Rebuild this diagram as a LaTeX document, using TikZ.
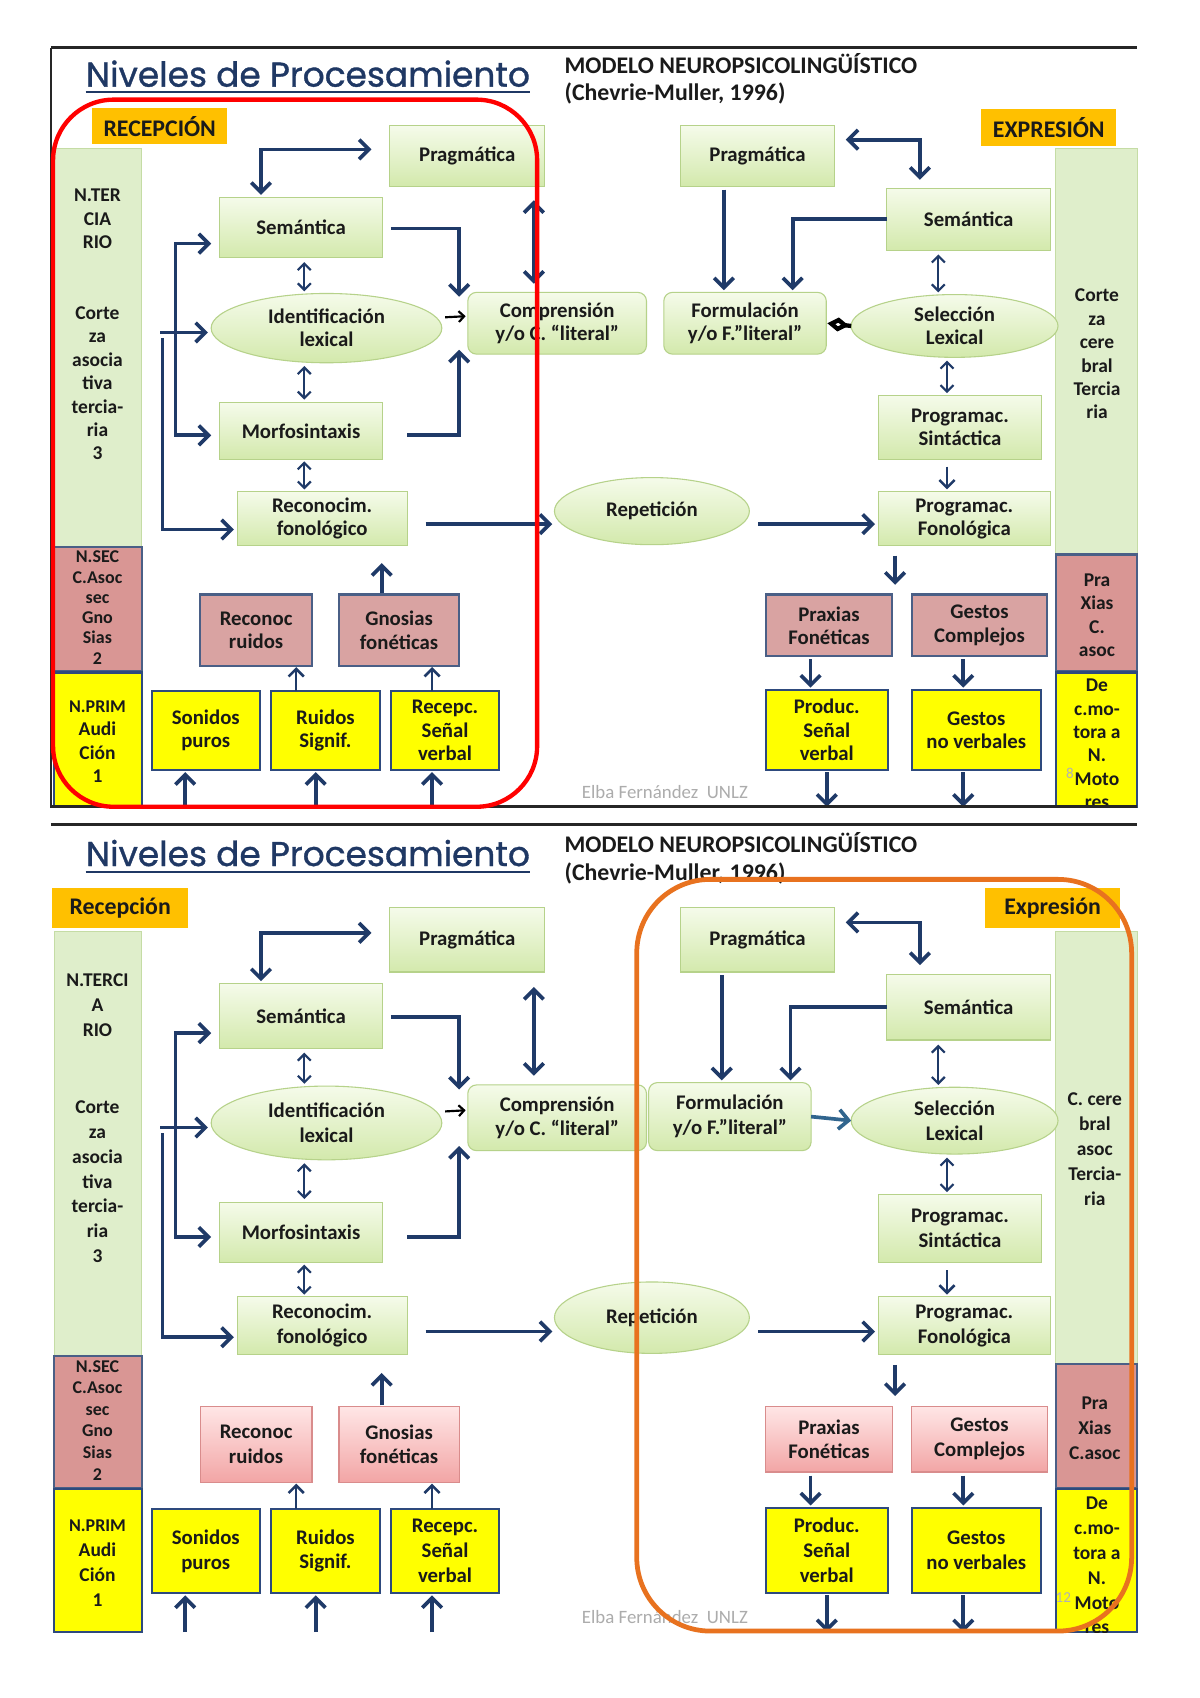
\documentclass[tikz,border=0pt]{standalone}
\usepackage{graphicx}
\usepackage{fontspec}
\setmainfont{Carlito}
\newfontfamily\titlefont[FakeBold=1]{Poppins}
\usetikzlibrary{arrows.meta,shapes.geometric,calc}
\definecolor{navy}{HTML}{1F3864}
\definecolor{arrc}{HTML}{1F3A68}
\definecolor{gtop}{HTML}{F5FBEA}
\definecolor{gbot}{HTML}{D3E9AC}
\definecolor{gbord}{HTML}{B6D28A}
\definecolor{colg}{HTML}{DFEECB}
\definecolor{colgb}{HTML}{C5DCA5}
\definecolor{pinkc}{HTML}{D99694}
\definecolor{slate}{HTML}{4A5F86}
\definecolor{pinkA}{HTML}{D9A3A2}
\definecolor{pinkTop}{HTML}{FFE6E6}
\definecolor{pinkBot}{HTML}{F2A5A5}
\definecolor{pinkBord}{HTML}{D98C8C}
\definecolor{yel}{HTML}{FFFF00}
\definecolor{yelb}{HTML}{2E4A7D}
\definecolor{orl}{HTML}{FFC000}
\definecolor{redo}{HTML}{FF0000}
\definecolor{orgo}{HTML}{E8721F}
\definecolor{txt}{HTML}{1A1A1A}
\definecolor{tealc}{HTML}{31658E}
\tikzset{
 nbase/.style={inner sep=0pt, outer sep=0pt, align=center, text=txt, font=\nodefont},
 gbox/.style={nbase, draw=gbord, line width=0.5pt, top color=gtop, bottom color=gbot},
 grbox/.style={gbox, rounded corners=4pt},
 gell/.style={nbase, ellipse, draw=gbord, line width=0.5pt, top color=gtop, bottom color=gbot},
 pbox/.style={nbase, draw=slate, line width=1pt, fill=pinkA},
 pboxB/.style={nbase, draw=pinkBord, line width=0.6pt, top color=pinkTop, bottom color=pinkBot},
 pstyle/.style={pbox},
 ybox/.style={nbase, draw=yelb, line width=1pt, fill=yel},
 colG/.style={nbase, draw=colgb, line width=0.5pt, fill=colg},
 colP/.style={nbase, draw=slate, line width=1pt, fill=pinkc},
 colY/.style={nbase, draw=yelb, line width=1pt, fill=yel},
 lab/.style={nbase, fill=orl, font=\bfseries\fontsize{11}{13}\selectfont},
 ctext/.style={nbase, font=\colfont},
 pnum/.style={inner sep=0pt, font=\fontsize{7}{8}\selectfont, text=gray!60},
 frame/.style={draw=black!85, line width=1.2pt},
 arr/.style={draw=arrc, line width=1.7pt, -{Straight Barb[length=4.5pt,width=9pt]}},
 darr/.style={draw=arrc, line width=1.7pt, {Straight Barb[length=4.5pt,width=9pt]}-{Straight Barb[length=4.5pt,width=9pt]}},
 sarr/.style={draw=arrc, line width=1pt, {Straight Barb[length=3pt,width=6pt]}-{Straight Barb[length=3pt,width=6pt]}},
 tarr/.style={draw=arrc, line width=1.2pt, -{Straight Barb[length=3.5pt,width=7pt]}},
}
\def\ysc{0.5pt}
\def\colfont{\bfseries\fontsize{9}{10.8}\selectfont}
\def\secfont{\bfseries\fontsize{8.3}{9.35}\selectfont}
\def\nodefont{\bfseries\fontsize{9.6}{10.7}\selectfont}
\newcommand{\bx}[7]{\node[#1, minimum width={(#5-#3)*0.5pt}, minimum height={(#6-#4)*\ysc}] (#2) at ({(#3+#5)/2},{(#4+#6)/2}) {#7};}
\newcommand{\commonpanel}[1]{%
 \draw[frame] (47,44) -- (1050,44);
 \node[anchor=base west, inner sep=0pt, text=navy] (#1title) at (79,80) {\resizebox{205pt}{!}{\titlefont Niveles de Procesamiento}};
 \draw[navy, line width=1pt] ($(#1title.base west)+(0,5)$) -- ($(#1title.base east)+(0,5)$);
 \node[anchor=base west, inner sep=0pt, text=txt, font=\bfseries\fontsize{11}{13}\selectfont] (#1model) at (521,68) {MODELO NEUROPSICOLINGÜÍSTICO};
 \node[anchor=base west, inner sep=0pt, text=txt, font=\bfseries\fontsize{11}{13}\selectfont] (#1chev) at (521,93) {(Chevrie-Muller, 1996)};
 % columns
 \bx{colG}{#1lg}{50}{137}{131}{505}{}
 \bx{colP}{#1lp}{50}{505}{131}{620}{}
 \bx{colY}{#1ly}{50}{621}{131}{745}{}
 \bx{colG}{#1rg}{975}{137}{1050}{512}{}
 \bx{colP}{#1rp}{975}{512}{1050}{620}{}
 \bx{colY}{#1ry}{975}{621}{1050}{745}{}
 \node[ctext] (#1lgt2) at (90,354) {Corte\\za\\asocia\\tiva\\tercia-\\ria\\3};
 \node[ctext, font=\secfont] (#1lpt) at (90,561) {N.SEC\\C.Asoc\\sec\\Gno\\Sias\\2};
 \node[ctext] (#1lyt) at (90,685) {{\fontsize{8.3}{9}\selectfont N.PRIM}\\Audi\\Ción\\1};
 \begin{scope}
 \clip (975,621) rectangle (1050,745);
 \node[ctext] (#1ryt) at (1013,687) {De\\c.mo-\\tora a\\N.\\Moto\\res};
 \end{scope}
 % main nodes
 \bx{gbox}{#1pragL}{360}{116}{503}{172}{Pragmática}
 \bx{gbox}{#1semL}{203}{182}{353}{238}{Semántica}
 \bx{gell}{#1ident}{195}{271}{408}{335}{Identificación\\lexical}
 \bx{gbox}{#1morf}{203}{372}{353}{424}{Morfosintaxis}
 \bx{gbox}{#1recon}{219}{454}{376}{504}{Reconocim.\\fonológico}
 \bx{grbox}{#1compr}{432}{270}{597}{327}{Comprensión\\y/o C. “literal”}
 \bx{gell}{#1repet}{512}{441}{692}{503}{Repetición}
 \bx{pstyle}{#1rruid}{185}{549}{288}{615}{Reconoc\\ruidos}
 \bx{pstyle}{#1gnos}{313}{549}{424}{615}{Gnosias\\fonéticas}
 \bx{ybox}{#1son}{140}{638}{240}{711}{Sonidos\\puros}
 \bx{ybox}{#1ruid}{250}{638}{351}{711}{Ruidos\\Signif.}
 \bx{ybox}{#1recep}{361}{638}{461}{711}{Recepc.\\Señal\\verbal}
 \bx{gbox}{#1pragR}{628}{116}{771}{172}{Pragmática}
 \bx{gbox}{#1semR}{819}{174}{970}{231}{Semántica}
 \bx{gell}{#1sel}{786}{272}{977}{330}{Selección\\Lexical}
 \bx{gbox}{#1psin}{811}{365}{962}{424}{Programac.\\Sintáctica}
 \bx{gbox}{#1pfon}{811}{454}{970}{504}{Programac.\\Fonológica}
 \bx{pstyle}{#1prax}{707}{549}{824}{606}{Praxias\\Fonéticas}
 \bx{pstyle}{#1gcomp}{842}{549}{967}{606}{Gestos\\Complejos}
 \bx{ybox}{#1prod}{707}{637}{820}{711}{Produc.\\Señal\\verbal}
 \bx{ybox}{#1gnov}{842}{637}{961}{711}{Gestos\\no verbales}
 % arrows
 \draw[darr] ($(#1semL.north)+(-37,-2)$) |- ($(#1pragL.west)+(-17,-6)$);
 \draw[arr] ($(#1semL.east)+(8,1)$) -| ($(#1compr.north west)+(-8,4)$);
 \draw[arr] ($(#1morf.east)+(23,4)$) -| ($(#1compr.south west)+(-8,-4)$);
 \draw[black, line width=1pt, -{Straight Barb[length=2.5pt,width=5pt]}] ($(#1ident.east)+(3,-10)$) -- ($(#1compr.west)+(-2,-6.5)$);
 \draw[sarr] ($(#1semL.south)+(3,4)$) -- ($(#1semL.south |- #1ident.north)+(3,-2)$);
 \draw[sarr] ($(#1morf.north |- #1ident.south)+(3,3)$) -- ($(#1morf.north)+(3,-3)$);
 \draw[sarr] ($(#1morf.south)+(3,2)$) -- ($(#1morf.south |- #1recon.north)+(3,-2)$);
 \draw[darr] ($(#1semL.west)+(-8,15)$) -| ($(#1morf.west)+(-41,4)$) -- ($(#1morf.west)+(-8,4)$);
 \draw[arr] ($(#1ident.west)+(-47,4)$) -- ($(#1ident.west)+(-3,4)$);
 \draw[arr] ($(#1ident.west)+(-45,9)$) |- ($(#1recon.west)+(-3,10)$);
 \draw[arr] ($(#1recon.east)+(17,5)$) -- ($(#1repet.west)+(-2,12)$);
 \draw[arr] ($(#1gnos.north)+(-16,-1)$) -- ($(#1gnos.north |- #1recon.south)+(-16,16)$);
 \draw[tarr] ($(#1ruid.north)+(-27,0)$) -- ($(#1ruid.north |- #1rruid.south)+(-27,1)$);
 \draw[tarr] ($(#1recep.north)+(-12,0)$) -- ($(#1recep.north |- #1gnos.south)+(-12,1)$);
 \draw[arr] ($(#1son.south)+(-19,34)$) -- ($(#1son.south)+(-19,2)$);
 \draw[arr] ($(#1ruid.south)+(-9,34)$) -- ($(#1ruid.south)+(-9,2)$);
 \draw[arr] ($(#1recep.south)+(-12,34)$) -- ($(#1recep.south)+(-12,2)$);
 \draw[darr] ($(#1pragL.south east)+(-10,13)$) -- ($(#1pragL.south east |- #1compr.north)+(-10,-8)$);
 \draw[darr] ($(#1pragR.east)+(10,-15)$) -| ($(#1semR.north)+(-45,-8)$);
 \draw[sarr] ($(#1semR.south)+(-28,4)$) -- ($(#1semR.south |- #1sel.north)+(-28,-2)$);
 \draw[sarr] ($(#1psin.north |- #1sel.south)+(-12,3)$) -- ($(#1psin.north)+(-12,-2)$);
 \draw[tarr] ($(#1psin.south)+(-12,7)$) -- ($(#1psin.south |- #1pfon.north)+(-12,-2)$);
 \draw[arr] ($(#1repet.east)+(8,12)$) -- ($(#1pfon.west)+(-3,5)$);
 \draw[arr] ($(#1pfon.south)+(-64,9)$) -- ($(#1pfon.south)+(-64,36)$);
 \draw[arr] ($(#1prax.south)+(-17,3)$) -- ($(#1prax.south |- #1prod.north)+(-17,-2)$);
 \draw[arr] ($(#1gcomp.south)+(-15,3)$) -- ($(#1gcomp.south |- #1gnov.north)+(-15,-2)$);
 \draw[arr] ($(#1prod.south)+(0,2)$) -- ($(#1prod.south)+(0,34)$);
 \draw[arr] ($(#1gnov.south)+(-12,2)$) -- ($(#1gnov.south)+(-12,34)$);
 \node[anchor=base west, inner sep=0pt, font=\fontsize{8.7}{10}\selectfont, text=gray!65] (#1foot) at (537,737) {Elba Fernández\ \ UNLZ};
}
\begin{document}
\begin{tikzpicture}[x=0.5pt,y=-0.5pt]
\useasboundingbox (0,0) rectangle (1108,1568);
\fill[white] (0,0) rectangle (1108,1568);
% ===== top panel =====
\begin{scope}
\commonpanel{T}
\draw[frame] (47,44) -- (47,745) -- (1050,745);
\bx{lab}{Trec}{85}{100}{210}{133}{RECEPCIÓN}
\bx{lab}{Texp}{906}{101}{1031}{135}{EXPRESIÓN}
\node[ctext] (Tlgt1) at (90,202) {N.TER\\CIA\\RIO};
\node[ctext] (Trgt) at (1013,327) {Corte\\za\\cere\\bral\\Tercia\\ria};
\node[ctext] (Trpt) at (1013,568) {Pra\\Xias\\C.\\asoc};
\bx{grbox}{Tform}{613}{270}{763}{327}{Formulación\\y/o F.”literal”}
\draw[arr] ($(TpragR.south)+(-31,3)$) -- ($(TpragR.south |- Tform.north)+(-31,-2)$);
\draw[arr] (TsemR.west) -| ($(Tform.north west)+(119,-2)$);
\draw[black, line width=2pt, {Diamond[open,length=10pt,width=6.5pt]}-] ($(Tform.east)+(1,0)$) -- (Tsel.west);
\node[pnum] (Tpn) at (988,714) {8};
\draw[redo, line width=2pt, rounded corners=28pt] (49,92) rectangle (496,745);
\end{scope}
% ===== bottom panel =====
\begin{scope}[y=-0.532pt, yshift=-357.29pt]
\def\ysc{0.532pt}
\def\colfont{\bfseries\fontsize{9}{11.5}\selectfont}
\def\secfont{\bfseries\fontsize{8.3}{9.95}\selectfont}
\def\nodefont{\bfseries\fontsize{9.6}{11.4}\selectfont}
\tikzset{pstyle/.style={pboxB}}
\commonpanel{B}
\bx{lab}{Brec}{48}{99}{174}{134}{Recepción}
\bx{lab}{Bexp}{910}{99}{1034}{134}{Expresión}
\node[ctext] (Blgt1) at (90,201) {N.TERCI\\A\\RIO};
\node[ctext] (Brgt) at (1011,326) {C. cere\\bral\\asoc\\Tercia-\\ria};
\node[ctext] (Brpt) at (1011,568) {Pra\\Xias\\C.asoc};
\bx{grbox}{Bform}{599}{268}{749}{327}{Formulación\\y/o F.”literal”}
\draw[arr] ($(BpragR.south)+(-33,3)$) -- ($(BpragR.south |- Bform.north)+(-33,-2)$);
\draw[arr] (BsemR.west) -| ($(Bform.north west)+(131,-2)$);
\draw[arr, draw=tealc] (Bform.east) -- (Bsel.west);
\node[pnum] (Bpn) at (982,715) {12};
\draw[orgo, line width=2.2pt, rounded corners=34pt] (588,91.6) rectangle (1045,744);
\end{scope}
\end{tikzpicture}
\end{document}
